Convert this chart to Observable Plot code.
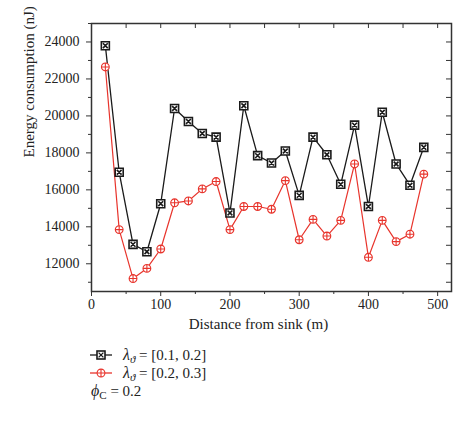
<!DOCTYPE html>
<html>
<head>
<meta charset="utf-8">
<script src="https://cdn.jsdelivr.net/npm/d3@7"></script>
<script src="https://cdn.jsdelivr.net/npm/@observablehq/plot@0.6"></script>
<style>
  html, body { margin: 0; padding: 0; background: #fff; }
  #wrap { position: relative; width: 474px; height: 424px; font-family: "Liberation Serif", "DejaVu Serif", serif; }
  #legend { position: absolute; left: 89px; top: 346px; font-size: 15px; color: #222; }
  .row { display: flex; align-items: center; height: 18px; }
  .row svg { margin-right: 10px; }
  sub { font-size: 11px; vertical-align: -3px; line-height: 0; }
</style>
</head>
<body>
<div id="wrap">
  <div id="chart"></div>
  <div id="legend"></div>
</div>
<script>
const distances = [20,40,60,80,100,120,140,160,180,200,220,240,260,280,300,320,340,360,380,400,420,440,460,480];
const energyA = [23800,16950,13050,12650,15250,20400,19700,19050,18850,14750,20550,17850,17450,18100,15700,18850,17900,16300,19500,15100,20200,17400,16250,18300];
const energyB = [22650,13850,11200,11750,12800,15300,15400,16050,16450,13850,15100,15100,14950,16500,13300,14400,13500,14350,17400,12350,14350,13200,13600,16850];
const xTicks = [0,100,200,300,400,500];
const xMinor = [50,150,250,350,450];
const yTicks = [12000,14000,16000,18000,20000,22000,24000];
const yMinor = [11000,13000,15000,17000,19000,21000,23000,25000];
const seriesNames = ["λϑ = [0.1, 0.2]", "λϑ = [0.2, 0.3]"];

const black = "#1a1a1a", red = "#e8342c";
const serif = "'Liberation Serif', serif";
const dataA = distances.map((d, i) => ({x: d, y: energyA[i]}));
const dataB = distances.map((d, i) => ({x: d, y: energyB[i]}));

const squareX = {draw(ctx, size) {
  const s = Math.sqrt(size / Math.PI);
  ctx.moveTo(-s, -s); ctx.lineTo(s, -s); ctx.lineTo(s, s); ctx.lineTo(-s, s); ctx.closePath();
  const t = s * 0.6;
  ctx.moveTo(-t, -t); ctx.lineTo(t, t); ctx.moveTo(t, -t); ctx.lineTo(-t, t);
}};
const circlePlus = {draw(ctx, size) {
  const r = Math.sqrt(size / Math.PI);
  ctx.moveTo(r, 0); ctx.arc(0, 0, r, 0, 2 * Math.PI); ctx.closePath();
  ctx.moveTo(-r, 0); ctx.lineTo(r, 0); ctx.moveTo(0, -r); ctx.lineTo(0, r);
}};

const W = 474, H = 342, mL = 91, mR = 23, mT = 23, mB = 51;
const plotW = W - mL - mR, plotH = H - mT - mB;
const axisColor = "#333";

const chart = Plot.plot({
  width: W, height: H,
  marginLeft: mL, marginRight: mR, marginTop: mT, marginBottom: mB,
  style: {fontFamily: serif, fontSize: "14px", color: "#222", background: "white"},
  x: {domain: [0, 520]},
  y: {domain: [10500, 25000]},
  marks: [
    Plot.axisX({ticks: xTicks, tickSize: 5, tickPadding: 3, label: null, stroke: axisColor, fontSize: 14, fontFamily: serif}),
    Plot.axisX({ticks: xMinor, tickSize: 3, text: null, label: null, stroke: axisColor}),
    Plot.tickX([...xTicks, ...xMinor], {x: d => d, insetBottom: plotH - 5, stroke: axisColor}),
    Plot.axisY({ticks: yTicks, tickSize: 5, tickPadding: 7, label: null, tickFormat: d => String(d), stroke: axisColor, fontSize: 14, fontFamily: serif}),
    Plot.axisY({ticks: yMinor, tickSize: 3, text: null, label: null, stroke: axisColor}),
    Plot.tickY([...yTicks, ...yMinor], {y: d => d, insetLeft: plotW - 5, stroke: axisColor}),
    Plot.frame({stroke: axisColor, strokeWidth: 1.5}),
    Plot.text(["Distance from sink (m)"], {frameAnchor: "bottom", dx: -13, dy: 37, fontSize: 15, fontFamily: serif, fill: "#222"}),
    Plot.text(["Energy consumption (nJ)"], {frameAnchor: "left", rotate: -90, dx: -62, fontSize: 15, fontFamily: serif, fill: "#222"}),
    Plot.line(dataA, {x: "x", y: "y", stroke: black, strokeWidth: 1.3}),
    Plot.line(dataB, {x: "x", y: "y", stroke: red, strokeWidth: 1.2}),
    Plot.dot(dataA, {x: "x", y: "y", r: 4, symbol: squareX, fill: "white", stroke: black, strokeWidth: 1.6}),
    Plot.dot(dataB, {x: "x", y: "y", r: 3.9, symbol: circlePlus, fill: "white", stroke: red, strokeWidth: 1.1})
  ]
});
document.getElementById("chart").appendChild(chart);

function swatch(color, kind) {
  const svg = d3.create("svg").attr("width", 24).attr("height", 12);
  svg.append("line").attr("x1", 1).attr("x2", 23).attr("y1", 6).attr("y2", 6).attr("stroke", color).attr("stroke-width", 1.3);
  if (kind === "square") {
    svg.append("rect").attr("x", 8).attr("y", 2).attr("width", 8).attr("height", 8).attr("fill", "white").attr("stroke", color).attr("stroke-width", 1.6);
    svg.append("path").attr("d", "M9.6,3.6L14.4,8.4M14.4,3.6L9.6,8.4").attr("stroke", color).attr("stroke-width", 1.3);
  } else {
    svg.append("circle").attr("cx", 12).attr("cy", 6).attr("r", 3.9).attr("fill", "white").attr("stroke", color).attr("stroke-width", 1.1);
    svg.append("path").attr("d", "M8.1,6H15.9M12,2.1V9.9").attr("stroke", color).attr("stroke-width", 1.1);
  }
  return svg.node();
}
const legend = d3.select("#legend");
[[black, "square", seriesNames[0]], [red, "circle", seriesNames[1]]].forEach(([c, k, name]) => {
  const row = legend.append("div").attr("class", "row");
  row.node().appendChild(swatch(c, k));
  const rest = name.slice(2);
  row.append("span").html(`<i style="font-size:16px">${name[0]}</i><sub><i>${name[1]}</i></sub>${rest}`);
});
legend.append("div").attr("class", "row").style("padding-left", "2px")
  .append("span").html(`<i style="font-size:16px">ϕ</i><sub>C</sub> = 0.2`);
</script>
</body>
</html>
